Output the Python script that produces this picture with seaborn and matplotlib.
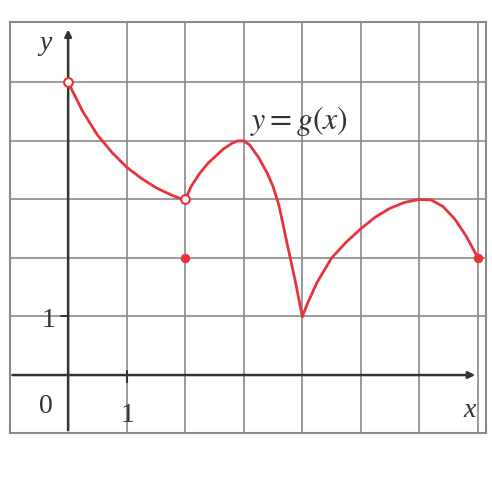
import matplotlib
matplotlib.use("Agg")
import matplotlib.pyplot as plt
import seaborn as sns
import pandas as pd

seg1_x = [0, 0.1, 0.25, 0.5, 0.75, 1, 1.25, 1.5, 1.75, 1.9, 2]
seg1_y = [5, 4.8, 4.5, 4.1, 3.8, 3.55, 3.36, 3.2, 3.08, 3.02, 3.0]
seg2_x = [2, 2.1, 2.25, 2.4, 2.5, 2.65, 2.8, 2.9, 3.0, 3.1, 3.25, 3.4, 3.5, 3.6, 3.75, 3.88, 4]
seg2_y = [3, 3.22, 3.45, 3.63, 3.72, 3.86, 3.96, 4.0, 4.0, 3.93, 3.72, 3.45, 3.22, 2.9, 2.2, 1.6, 1]
seg3_x = [4, 4.1, 4.25, 4.5, 4.75, 5, 5.25, 5.5, 5.75, 6, 6.2, 6.4, 6.6, 6.8, 7]
seg3_y = [1, 1.25, 1.58, 2.0, 2.27, 2.5, 2.7, 2.85, 2.95, 3.0, 2.99, 2.88, 2.67, 2.37, 2.0]
open_x = [0, 2]
open_y = [5, 3]
closed_x = [2, 7]
closed_y = [2, 2]

sns.set_style("white")
plt.rcParams["mathtext.fontset"] = "stix"
fig = plt.figure(figsize=(4.92, 4.78), dpi=100)
ax = fig.add_axes([9.6/492, 1-433/478, 476/492, 411/478])
ax.set_xlim(-1, 7.13)
ax.set_ylim(-0.99, 6.03)
red = "#e8333c"
for xs, ys in [(seg1_x, seg1_y), (seg2_x, seg2_y), (seg3_x, seg3_y)]:
    df = pd.DataFrame({"x": xs, "y": ys})
    sns.lineplot(data=df, x="x", y="y", ax=ax, color=red, lw=2, sort=False, estimator=None)
sns.scatterplot(x=open_x, y=open_y, ax=ax, s=40, facecolor="white", edgecolor=red, linewidth=1.5, zorder=5)
sns.scatterplot(x=closed_x, y=closed_y, ax=ax, s=40, color=red, edgecolor=red, zorder=5)
for v in range(1, 8):
    ax.axvline(v, color="#8a8a8a", lw=1.2, zorder=0)
for v in range(1, 6):
    ax.axhline(v, color="#8a8a8a", lw=1.2, zorder=0)
ax.annotate("", xy=(7.0, 0), xytext=(-1, 0), arrowprops=dict(arrowstyle="-|>", color="#333", lw=1.8))
ax.annotate("", xy=(0, 5.95), xytext=(0, -0.99), arrowprops=dict(arrowstyle="-|>", color="#333", lw=1.8))
for s in ax.spines.values():
    s.set_color("#8a8a8a")
    s.set_linewidth(1.5)
ax.set_xticks([]); ax.set_yticks([])
ax.set_xlabel(""); ax.set_ylabel("")
ax.plot([1, 1], [0.07, -0.12], color="#333", lw=1.5)
ax.plot([-0.12, 0], [1, 1], color="#333", lw=1.5)
f = dict(family="Liberation Serif", fontsize=20, color="#333")
ax.text(-0.5, 5.55, "y", style="italic", **f)
ax.text(6.75, -0.72, "x", style="italic", **f)
ax.text(-0.5, -0.65, "0", **f)
ax.text(0.9, -0.8, "1", **f)
ax.text(-0.45, 0.82, "1", **f)
ax.text(3.1, 4.2, "$y = g(x)$", fontsize=23, color="#333")
fig.savefig("out.png", dpi=100)
